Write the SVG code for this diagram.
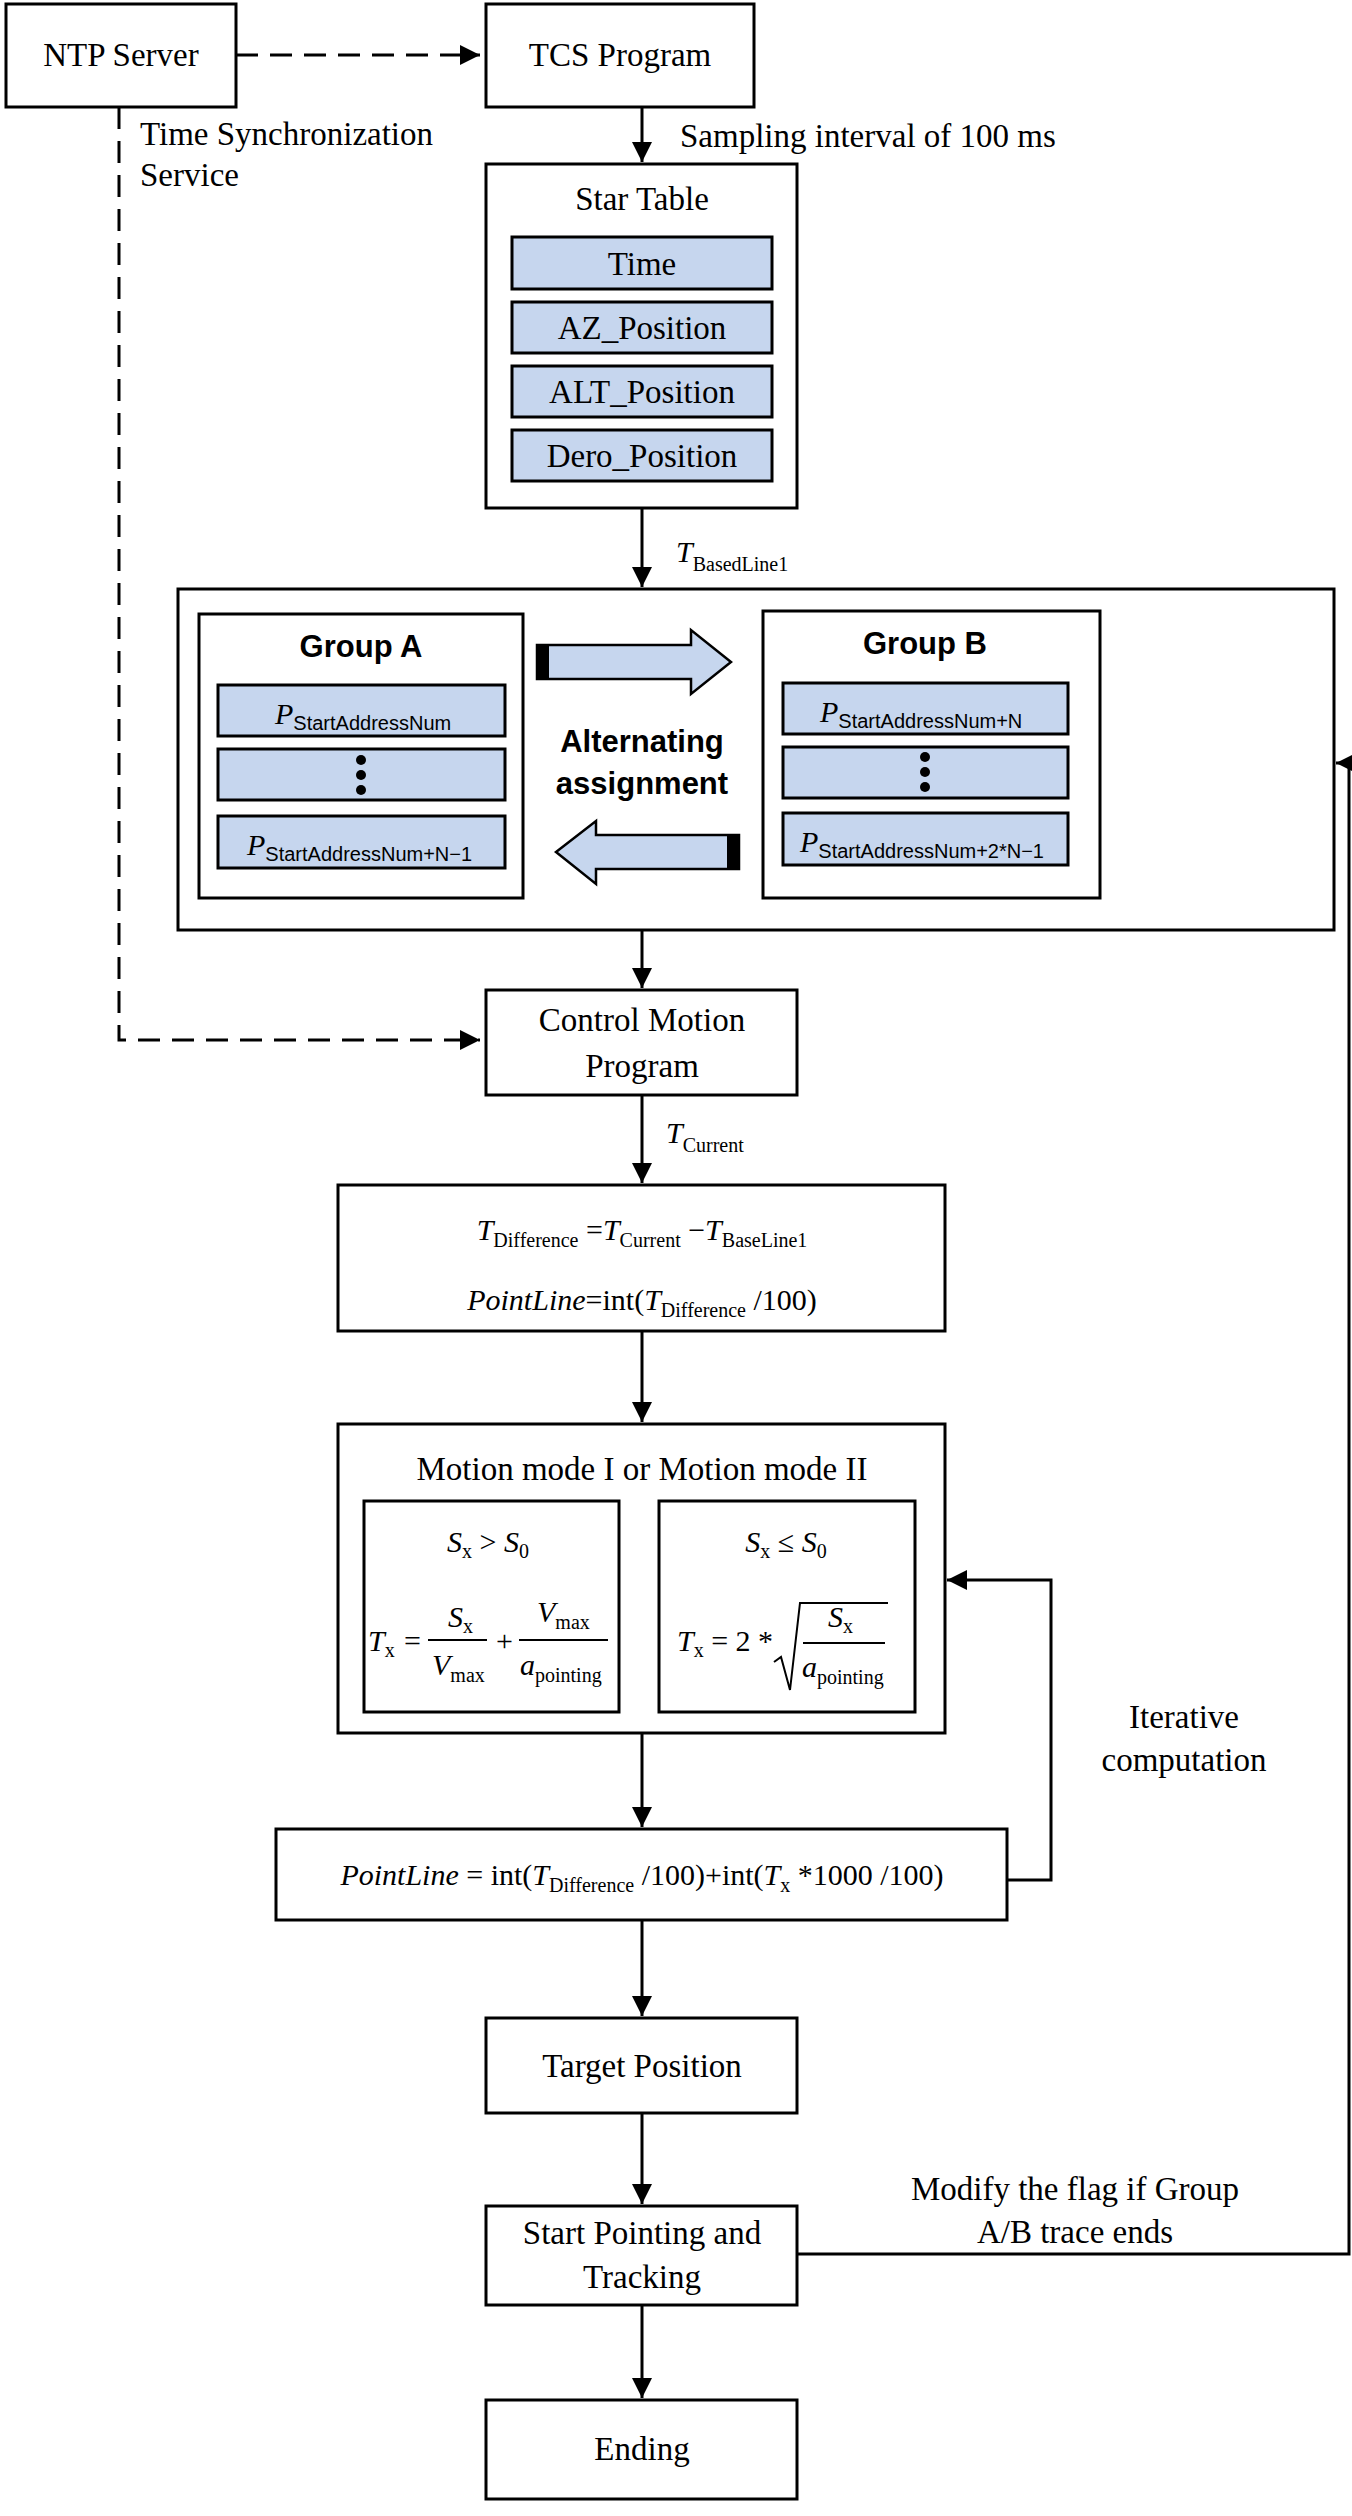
<svg xmlns="http://www.w3.org/2000/svg" width="1352" height="2516" viewBox="0 0 1352 2516">
<style>
.b{fill:#fff;stroke:#000;stroke-width:3}
.r{fill:#c6d6ee;stroke:#000;stroke-width:3}
.t{font-family:"Liberation Serif",serif;font-size:33px;fill:#000;text-anchor:middle}
.tl{font-family:"Liberation Serif",serif;font-size:33px;fill:#000}
.g{font-family:"Liberation Sans",sans-serif;font-weight:bold;font-size:31px;text-anchor:middle}
.m{font-family:"Liberation Serif",serif;font-size:30px}
.i{font-style:italic}
.s{font-size:20px;font-style:normal}
.ln{fill:none;stroke:#000;stroke-width:3}
.d{fill:none;stroke:#000;stroke-width:3;stroke-dasharray:22,12}
</style>
<defs>
<marker id="A" viewBox="0 0 10 10" refX="10" refY="5" markerWidth="26" markerHeight="20" orient="auto" markerUnits="userSpaceOnUse"><path d="M0,0 L10,5 L0,10 z" fill="#000"/></marker>
</defs>
<g id="connectors">
<path class="d" d="M236,55 H480" marker-end="url(#A)"/>
<path class="d" d="M119,107 V1040 H480" marker-end="url(#A)"/>
<path class="ln" d="M642,107 V162" marker-end="url(#A)"/>
<path class="ln" d="M642,508 V587" marker-end="url(#A)"/>
<path class="ln" d="M642,930 V988" marker-end="url(#A)"/>
<path class="ln" d="M642,1095 V1183" marker-end="url(#A)"/>
<path class="ln" d="M642,1331 V1422" marker-end="url(#A)"/>
<path class="ln" d="M642,1733 V1827" marker-end="url(#A)"/>
<path class="ln" d="M642,1920 V2016" marker-end="url(#A)"/>
<path class="ln" d="M642,2113 V2204" marker-end="url(#A)"/>
<path class="ln" d="M642,2305 V2398" marker-end="url(#A)"/>
<path class="ln" d="M1007,1880 H1051 V1580 H947" marker-end="url(#A)"/>
<path class="ln" d="M797,2254 H1349 V763 H1336" marker-end="url(#A)"/>
<text class="tl" x="140" y="145">Time Synchronization</text>
<text class="tl" x="140" y="186">Service</text>
<text class="tl" x="680" y="147">Sampling interval of 100 ms</text>
<text class="m i" x="676" y="562" font-size="34">T<tspan class="s" dy="9">BasedLine1</tspan></text>
<text class="m i" x="666" y="1143" font-size="34">T<tspan class="s" dy="9">Current</tspan></text>
<text class="t" x="1184" y="1728">Iterative</text>
<text class="t" x="1184" y="1771">computation</text>
<text class="t" x="1075" y="2200">Modify the flag if Group</text>
<text class="t" x="1075" y="2243">A/B trace ends</text>
</g>
<g id="ntp"><rect class="b" x="6" y="4" width="230" height="103"/><text class="t" x="121" y="66">NTP Server</text></g>
<g id="tcs"><rect class="b" x="486" y="4" width="268" height="103"/><text class="t" x="620" y="66">TCS Program</text></g>
<g id="startable"><rect class="b" x="486" y="164" width="311" height="344"/>
<text class="t" x="642" y="210">Star  Table</text>
<rect class="r" x="512" y="237" width="260" height="52"/><text class="t" x="642" y="275">Time</text>
<rect class="r" x="512" y="302" width="260" height="51"/><text class="t" x="642" y="339">AZ_Position</text>
<rect class="r" x="512" y="366" width="260" height="51"/><text class="t" x="642" y="403">ALT_Position</text>
<rect class="r" x="512" y="430" width="260" height="51"/><text class="t" x="642" y="467">Dero_Position</text>
</g>
<g id="groups"><rect class="b" x="178" y="589" width="1156" height="341"/>
<g id="groupA"><rect class="b" x="199" y="614" width="324" height="284"/>
<text class="g" x="361" y="657">Group A</text>
<rect class="r" x="218" y="685" width="287" height="51"/>
<text class="m i" x="275" y="724" font-size="34">P<tspan class="s" dy="6" font-family="Liberation Sans Narrow,Liberation Sans,sans-serif">StartAddressNum</tspan></text>
<rect class="r" x="218" y="749" width="287" height="51"/>
<circle cx="361" cy="760" r="5"/><circle cx="361" cy="775" r="5"/><circle cx="361" cy="790" r="5"/>
<rect class="r" x="218" y="816" width="287" height="52"/>
<text class="m i" x="247" y="855" font-size="34">P<tspan class="s" dy="6" font-family="Liberation Sans Narrow,Liberation Sans,sans-serif">StartAddressNum+N−1</tspan></text>
</g>
<g id="groupB"><rect class="b" x="763" y="611" width="337" height="287"/>
<text class="g" x="925" y="654">Group B</text>
<rect class="r" x="783" y="683" width="285" height="51"/>
<text class="m i" x="820" y="722" font-size="34">P<tspan class="s" dy="6" font-family="Liberation Sans Narrow,Liberation Sans,sans-serif">StartAddressNum+N</tspan></text>
<rect class="r" x="783" y="747" width="285" height="51"/>
<circle cx="925" cy="757" r="5"/><circle cx="925" cy="772" r="5"/><circle cx="925" cy="787" r="5"/>
<rect class="r" x="783" y="813" width="285" height="52"/>
<text class="m i" x="800" y="852" font-size="34">P<tspan class="s" dy="6" font-family="Liberation Sans Narrow,Liberation Sans,sans-serif">StartAddressNum+2*N−1</tspan></text>
</g>
<path d="M537,645 H691 V630 L731,662 L691,694 V679 H537 z" fill="#c6d6ee" stroke="#000" stroke-width="2.5"/>
<rect x="537" y="645" width="12" height="34" fill="#000"/>
<path d="M739,835 H596 V821 L556,852 L596,884 V869 H739 z" fill="#c6d6ee" stroke="#000" stroke-width="2.5"/>
<rect x="727" y="835" width="12" height="34" fill="#000"/>
<text class="g" x="642" y="752">Alternating</text>
<text class="g" x="642" y="794">assignment</text>
</g>
<g id="control"><rect class="b" x="486" y="990" width="311" height="105"/><text class="t" x="642" y="1031">Control Motion</text><text class="t" x="642" y="1077">Program</text></g>
<g id="diff"><rect class="b" x="338" y="1185" width="607" height="146"/>
<text class="m" x="642" y="1240" text-anchor="middle"><tspan class="i">T</tspan><tspan class="s" dy="7">Difference</tspan><tspan dy="-7"> =</tspan><tspan class="i">T</tspan><tspan class="s" dy="7">Current</tspan><tspan dy="-7"> −</tspan><tspan class="i">T</tspan><tspan class="s" dy="7">BaseLine1</tspan></text>
<text class="m" x="642" y="1310" text-anchor="middle" font-size="33"><tspan class="i">PointLine</tspan>=int(<tspan class="i">T</tspan><tspan class="s" dy="7">Difference</tspan><tspan dy="-7"> /100)</tspan></text>
</g>
<g id="mode"><rect class="b" x="338" y="1424" width="607" height="309"/>
<text class="t" x="642" y="1480">Motion mode I or Motion mode II</text>
<rect class="b" x="364" y="1501" width="255" height="211"/>
<rect class="b" x="659" y="1501" width="256" height="211"/>
<text class="m" x="488" y="1552" text-anchor="middle"><tspan class="i">S</tspan><tspan class="s i" dy="6">x</tspan><tspan dy="-6"> &gt; </tspan><tspan class="i">S</tspan><tspan class="s" dy="6">0</tspan></text>
<text class="m i" x="368" y="1651">T<tspan class="s i" dy="6">x</tspan></text>
<text class="m" x="404" y="1651">=</text>
<text class="m i" x="448" y="1627">S<tspan class="s i" dy="6">x</tspan></text>
<line x1="428" y1="1640" x2="487" y2="1640" stroke="#000" stroke-width="2"/>
<text class="m i" x="432" y="1675">V<tspan class="s" dy="7">max</tspan></text>
<text class="m" x="496" y="1651">+</text>
<text class="m i" x="537" y="1622">V<tspan class="s" dy="7">max</tspan></text>
<line x1="519" y1="1640" x2="608" y2="1640" stroke="#000" stroke-width="2"/>
<text class="m i" x="520" y="1675">a<tspan class="s i" dy="7">pointing</tspan></text>
<text class="m" x="786" y="1552" text-anchor="middle"><tspan class="i">S</tspan><tspan class="s i" dy="6">x</tspan><tspan dy="-6"> ≤ </tspan><tspan class="i">S</tspan><tspan class="s" dy="6">0</tspan></text>
<text class="m" x="677" y="1651"><tspan class="i">T</tspan><tspan class="s i" dy="6">x</tspan><tspan dy="-6"> = 2 *</tspan></text>
<path d="M774,1662 L781,1657 L790,1690 L800,1603 H888" fill="none" stroke="#000" stroke-width="2"/>
<text class="m i" x="828" y="1627">S<tspan class="s i" dy="6">x</tspan></text>
<line x1="803" y1="1643" x2="885" y2="1643" stroke="#000" stroke-width="2"/>
<text class="m i" x="802" y="1677">a<tspan class="s i" dy="7">pointing</tspan></text>
</g>
<g id="pointline"><rect class="b" x="276" y="1829" width="731" height="91"/>
<text class="m" x="642" y="1885" text-anchor="middle" font-size="33"><tspan class="i">PointLine</tspan> = int(<tspan class="i">T</tspan><tspan class="s" dy="7">Difference</tspan><tspan dy="-7"> /100)+int(</tspan><tspan class="i">T</tspan><tspan class="s i" dy="7">x</tspan><tspan dy="-7"> *1000 /100)</tspan></text>
</g>
<g id="target"><rect class="b" x="486" y="2018" width="311" height="95"/><text class="t" x="642" y="2077">Target Position</text></g>
<g id="startpt"><rect class="b" x="486" y="2206" width="311" height="99"/><text class="t" x="642" y="2244">Start Pointing and</text><text class="t" x="642" y="2288">Tracking</text></g>
<g id="ending"><rect class="b" x="486" y="2400" width="311" height="99"/><text class="t" x="642" y="2460">Ending</text></g>
</svg>
